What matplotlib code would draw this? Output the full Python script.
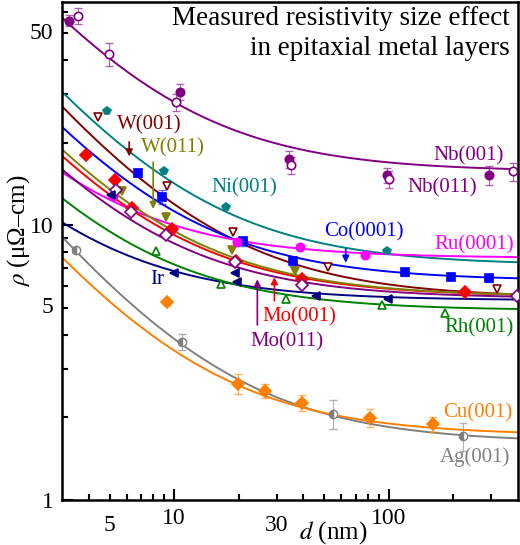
import numpy as np
import matplotlib
matplotlib.use('Agg')
import matplotlib.pyplot as plt
from matplotlib.ticker import FixedLocator, NullFormatter

plt.rcParams['font.family'] = ['Liberation Serif', 'DejaVu Serif']
plt.rcParams['mathtext.fontset'] = 'stix'

# fit curves rho = rho0 + A/d, parametros
materiais = ['Nb', 'Ni(001)', 'W(001)', 'Co(0001)', 'Ru(0001)', 'Mo(001)', 'W(011)',
             'Mo(011)', 'Ir', 'Rh(001)', 'Ag(001)', 'Cu(001)']
rho0 = [15.7, 7.16, 5.44, 6.29, 7.6, 5.5, 5.5, 5.42, 5.33, 4.9, 1.62, 1.72]
coefA = [124, 70.4, 65, 49.6, 24, 37.2, 40.2, 31.7, 14.8, 23, 22.4, 17.8]
cor_curva = ['#800080', '#008080', '#800000', '#0000ff', '#ff00ff', '#ff0000', '#808000',
             '#800080', '#000080', '#008000', '#808080', '#ff8000']

# pontos medidos
d_nb001 = [3.23, 10.6, 34.1, 98, 293]
r_nb001 = [55.6, 30.6, 17.4, 15.2, 15.2]
e_nb001 = [2.5, 2.0, 1.2, 1.0, 1.2]
d_nb011 = [3.56, 4.97, 10.2, 35.2, 100, 379]
r_nb011 = [57.9, 42.1, 28.1, 16.6, 14.7, 15.7]
e_nb011 = [4.0, 4.0, 2.0, 1.2, 1.0, 1.2]
d_ni = [4.86, 8.98, 17.5, 98]
r_ni = [26.1, 15.7, 11.7, 8.04]
d_w001 = [4.41, 9.27, 18.7, 51.9, 320]
r_w001 = [24.8, 13.9, 9.43, 7.03, 5.84]
d_w011 = [5.71, 9.18, 18.5, 36.7]
r_w011 = [13.3, 10.7, 8.11, 6.80]
d_co = [6.79, 8.79, 21.0, 35.9, 119, 195, 293]
r_co = [15.5, 12.7, 8.74, 7.39, 6.74, 6.51, 6.41]
e_co = [0.5, 0.7, 0.3, 0.3, 0.2, 0.2, 0.2]
d_ru = [5.19, 9.79, 19.7, 38.4, 77.3]
r_ru = [12.8, 9.67, 8.67, 8.31, 7.77]
d_mo001 = [3.88, 5.30, 6.36, 9.79, 19.5, 39.6, 226]
r_mo001 = [18.0, 14.6, 11.6, 9.67, 7.4, 6.35, 5.74]
d_mo011 = [5.36, 6.30, 9.18, 19.1, 39.2, 396]
r_mo011 = [13.4, 11.2, 9.20, 7.33, 6.04, 5.51]
d_ir = [5.1, 10.0, 19.3, 19.6, 46, 99]
r_ir = [12.9, 6.73, 6.68, 6.20, 5.51, 5.41]
d_rh = [8.24, 16.6, 33.3, 92.7, 183]
r_rh = [8.04, 6.09, 5.41, 5.11, 4.81]
d_ag = [3.48, 10.9, 54.7, 222]
r_ag = [8.11, 3.77, 2.06, 1.71]
e_ag = [0.15, 0.25, 0.25, 0.2]
d_cu = [9.27, 19.9, 26.6, 39.6, 81.5, 161]
r_cu = [5.24, 2.65, 2.50, 2.26, 1.99, 1.89]
e_cu = [0.1, 0.22, 0.15, 0.15, 0.15, 0.12]

fig = plt.figure(figsize=(5.2, 5.45), dpi=100)
ax = fig.add_axes([62/520, 45/545, 456/520, 498/545])
ax.set_xscale('log')
ax.set_yscale('log')
ax.set_xlim(3, 400)
ax.set_ylim(1, 65)

d = np.geomspace(3, 400, 300)
for r0, a, c in zip(rho0, coefA, cor_curva):
    ax.plot(d, r0 + a / d, color=c, lw=1.4, zorder=2)

ms = 6
def pontos(x, y, marker, cor, cheio=True, erro=None, fs='full'):
    fc = cor if cheio else 'white'
    if erro is not None:
        ax.errorbar(x, y, yerr=erro, fmt='none', ecolor=cor, elinewidth=0.8,
                    capsize=3, alpha=0.6, zorder=3)
    ax.plot(x, y, ls='none', marker=marker, ms=ms, mfc=fc, mec=cor, mew=1.2,
            fillstyle=fs, zorder=4)

pontos(d_nb001, r_nb001, 'o', '#800080', erro=e_nb001)
pontos(d_nb011, r_nb011, 'o', '#800080', cheio=False, erro=e_nb011)
pontos(d_ni, r_ni, 'p', '#008080')
pontos(d_w001, r_w001, 'v', '#800000', cheio=False)
pontos(d_w011, r_w011, 'v', '#808000')
pontos(d_co, r_co, 's', '#0000ff', erro=e_co)
pontos(d_ru, r_ru, 'o', '#ff00ff')
pontos(d_mo001, r_mo001, 'D', '#ff0000')
pontos(d_mo011, r_mo011, 'D', '#800080', cheio=False)
pontos(d_ir, r_ir, '<', '#000080')
pontos(d_rh, r_rh, '^', '#008000', cheio=False)
ax.errorbar(d_ag, r_ag, yerr=e_ag, fmt='none', ecolor='#808080', elinewidth=0.8,
            capsize=3, alpha=0.6, zorder=3)
ax.plot(d_ag, r_ag, ls='none', marker='o', ms=ms, mfc='#808080', mec='#808080',
        mfcalt='white', fillstyle='left', zorder=4)
pontos(d_cu, r_cu, 'D', '#ff8000', erro=e_cu)

# rotulos
fs = 15
ax.text(7.64, 23.2, 'W(001)', color='#800000', fontsize=fs, ha='center', va='center')
ax.text(9.89, 19.1, 'W(011)', color='#808000', fontsize=fs, ha='center', va='center')
ax.text(21.2, 13.7, 'Ni(001)', color='#008080', fontsize=fs, ha='center', va='center')
ax.text(236, 17.9, 'Nb(001)', color='#800080', fontsize=fs, ha='center', va='center')
ax.text(177, 13.7, 'Nb(011)', color='#800080', fontsize=fs, ha='center', va='center')
ax.text(76.4, 9.43, 'Co(0001)', color='#0000ff', fontsize=fs, ha='center', va='center')
ax.text(249, 8.51, 'Ru(0001)', color='#ff00ff', fontsize=fs, ha='center', va='center')
ax.text(38.4, 4.66, 'Mo(001)', color='#ff0000', fontsize=fs, ha='center', va='center')
ax.text(33.4, 3.78, 'Mo(011)', color='#800080', fontsize=fs, ha='center', va='center')
ax.text(8.33, 6.35, 'Ir', color='#000080', fontsize=fs, ha='center', va='center')
ax.text(264, 4.24, 'Rh(001)', color='#008000', fontsize=fs, ha='center', va='center')
ax.text(261, 2.08, 'Cu(001)', color='#ff8000', fontsize=fs, ha='center', va='center')
ax.text(252, 1.435, 'Ag(001)', color='#808080', fontsize=fs, ha='center', va='center')

setas = [(6.17, 20.6, 17.4, '#800000'), (7.98, 17.4, 11.2, '#808000'),
         (63, 8.38, 7.14, '#0000ff'), (29.3, 5.19, 6.63, '#ff0000'),
         (24.4, 4.24, 6.51, '#800080')]
for x, y0, y1, c in setas:
    ax.annotate('', xy=(x, y1), xytext=(x, y0),
                arrowprops=dict(arrowstyle='-|>', color=c, lw=1.2, mutation_scale=10))

ax.text(0.982, 0.966, 'Measured resistivity size effect', transform=ax.transAxes,
        fontsize=19.5, ha='right', va='center')
ax.text(0.982, 0.907, 'in epitaxial metal layers', transform=ax.transAxes,
        fontsize=19.5, ha='right', va='center')

# eixos
ax.xaxis.set_major_locator(FixedLocator([10, 100]))
ax.xaxis.set_minor_locator(FixedLocator([4, 5, 6, 7, 8, 9, 20, 30, 40, 50, 60, 70, 80, 90, 200, 300]))
ax.set_xticklabels(['10', '100'])
ax.xaxis.set_minor_formatter(NullFormatter())
ax.yaxis.set_major_locator(FixedLocator([1, 10]))
ax.yaxis.set_minor_locator(FixedLocator([2, 3, 4, 5, 6, 7, 8, 9, 20, 30, 40, 50, 60]))
ax.set_yticklabels(['1', '10'])
ax.yaxis.set_minor_formatter(NullFormatter())
for v in [5, 30]:
    ax.text(v, -0.03, str(v), transform=ax.get_xaxis_transform(), fontsize=17,
            ha='center', va='top')
ax.text(-0.02, 5, '5', transform=ax.get_yaxis_transform(), fontsize=17, ha='right', va='center')
ax.text(-0.02, 50, '50', transform=ax.get_yaxis_transform(), fontsize=17, ha='right', va='center')

ax.tick_params(which='both', direction='in', top=False, right=False, labelsize=17, width=1.5)
ax.tick_params(which='major', length=8, pad=6)
ax.tick_params(which='minor', length=4)
for s in ax.spines.values():
    s.set_linewidth(1.8)

ax.text(0.594, -0.066, '$d$ (nm)', transform=ax.transAxes, fontsize=18, ha='center', va='center')
ax.text(-0.095, 0.54, r'$\rho$ (μΩ–cm)', transform=ax.transAxes, fontsize=18,
        ha='center', va='center', rotation=90)

fig.savefig('out.png', dpi=100)
